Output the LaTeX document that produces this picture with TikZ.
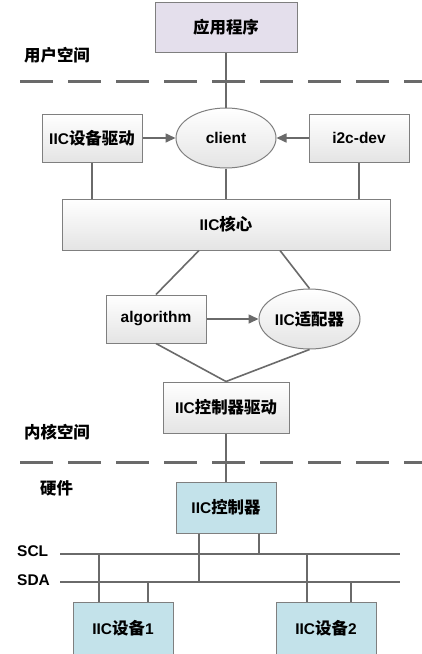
\documentclass[tikz,border=0pt]{standalone}
\usepackage{fontspec}
\setmainfont{Liberation Sans}
\newfontfamily\cjk{Noto Sans CJK SC}[Scale=1.06]
\usetikzlibrary{shapes.geometric,arrows.meta,calc}
\definecolor{edgegray}{HTML}{7F7F7F}
\definecolor{linegray}{HTML}{6A6A6A}
\definecolor{lav}{HTML}{E4DFEC}
\definecolor{lblue}{HTML}{C3E2EA}
\definecolor{boxbot}{HTML}{E4E4E4}
\tikzset{
  box/.style={draw=edgegray, line width=1pt, top color=white, bottom color=boxbot,
    font=\bfseries\fontsize{15.5}{18}\selectfont, inner sep=0pt},
  ell/.style={box, ellipse},
  conn/.style={draw=linegray, line width=1.6pt},
  arr/.style={conn, -{Triangle[length=10pt,width=9pt]}},
  dashline/.style={draw=linegray, line width=3pt, dash pattern=on 33pt off 15pt},
  lbl/.style={anchor=west, font=\bfseries\fontsize{15.5}{18}\selectfont, inner sep=0pt},
}
\begin{document}
\begin{tikzpicture}[x=1pt,y=-1pt]
\useasboundingbox (0,0) rectangle (422,654);
\fill[white] (0,0) rectangle (422,654);
% dashed separators
\coordinate (d1a) at (20,81); \coordinate (d1b) at (422,81);
\coordinate (d2a) at (20,462); \coordinate (d2b) at (422,462);
\draw[dashline] (d1a) -- (d1b);
\draw[dashline] (d2a) -- (d2b);
% nodes
\node[box, top color=lav, bottom color=lav, minimum width=142pt, minimum height=50pt] (app) at (226,27) {\cjk 应用程序};
\node[lbl] (us) at (24,55) {\cjk 用户空间};
\node[box, minimum width=100pt, minimum height=48pt] (drv) at (92,138) {IIC{\cjk 设备驱动}};
\node[box, minimum width=100pt, minimum height=48pt] (dev) at (359,138) {i2c-dev};
\node[ell, minimum width=100pt, minimum height=60pt] (client) at (226,138) {client};
\node[box, minimum width=328pt, minimum height=51pt] (core) at (226,224.5) {IIC{\cjk 核心}};
\node[box, minimum width=100pt, minimum height=48pt] (alg) at (156,319) {algorithm};
\node[ell, minimum width=101pt, minimum height=60pt] (adp) at (309.5,319) {IIC{\cjk 适配器}};
\node[box, minimum width=126pt, minimum height=51pt] (cdrv) at (226,407.5) {IIC{\cjk 控制器驱动}};
\node[lbl] (ks) at (24,432) {\cjk 内核空间};
\node[lbl] (hw) at (40,488) {\cjk 硬件};
\node[box, top color=lblue, bottom color=lblue, minimum width=100pt, minimum height=51pt] (ctrl) at (226,507.5) {IIC{\cjk 控制器}};
\node[lbl] (scl) at (17,551) {SCL};
\node[lbl] (sda) at (17,580) {SDA};
\node[box, top color=lblue, bottom color=lblue, minimum width=100pt, minimum height=52pt] (dev1) at (123,628) {IIC{\cjk 设备}1};
\node[box, top color=lblue, bottom color=lblue, minimum width=100pt, minimum height=52pt] (dev2) at (326,628) {IIC{\cjk 设备}2};
% connectors
\draw[conn] (app) -- (client);
\draw[arr] (drv) -- (client);
\draw[arr] (dev) -- (client);
\draw[conn] (drv.south) -- (drv.south |- core.north);
\draw[conn] (client) -- (core);
\draw[conn] (dev.south) -- (dev.south |- core.north);
\draw[conn] ([xshift=-27pt]core.south) -- (alg.north);
\draw[conn] ([xshift=54pt]core.south) -- (adp.north);
\draw[arr] (alg) -- (adp);
\draw[conn] (alg.south) -- (cdrv.north);
\draw[conn] (adp.south) -- (cdrv.north);
\draw[conn] (cdrv) -- (ctrl);
% bus
\coordinate (sclL) at (60,554); \coordinate (sclR) at (400,554);
\coordinate (sdaL) at (60,582); \coordinate (sdaR) at (400,582);
\draw[conn] (sclL) -- (sclR);
\draw[conn] (sdaL) -- (sdaR);
\draw[conn] ([xshift=-27pt]ctrl.south) -- ([xshift=-27pt]ctrl.south |- sdaL);
\draw[conn] ([xshift=33pt]ctrl.south) -- ([xshift=33pt]ctrl.south |- sclL);
\draw[conn] ([xshift=-24pt]dev1.north) -- ([xshift=-24pt]dev1.north |- sclL);
\draw[conn] ([xshift=25pt]dev1.north) -- ([xshift=25pt]dev1.north |- sdaL);
\draw[conn] ([xshift=-19pt]dev2.north) -- ([xshift=-19pt]dev2.north |- sclL);
\draw[conn] ([xshift=25pt]dev2.north) -- ([xshift=25pt]dev2.north |- sdaL);
\end{tikzpicture}
\end{document}
